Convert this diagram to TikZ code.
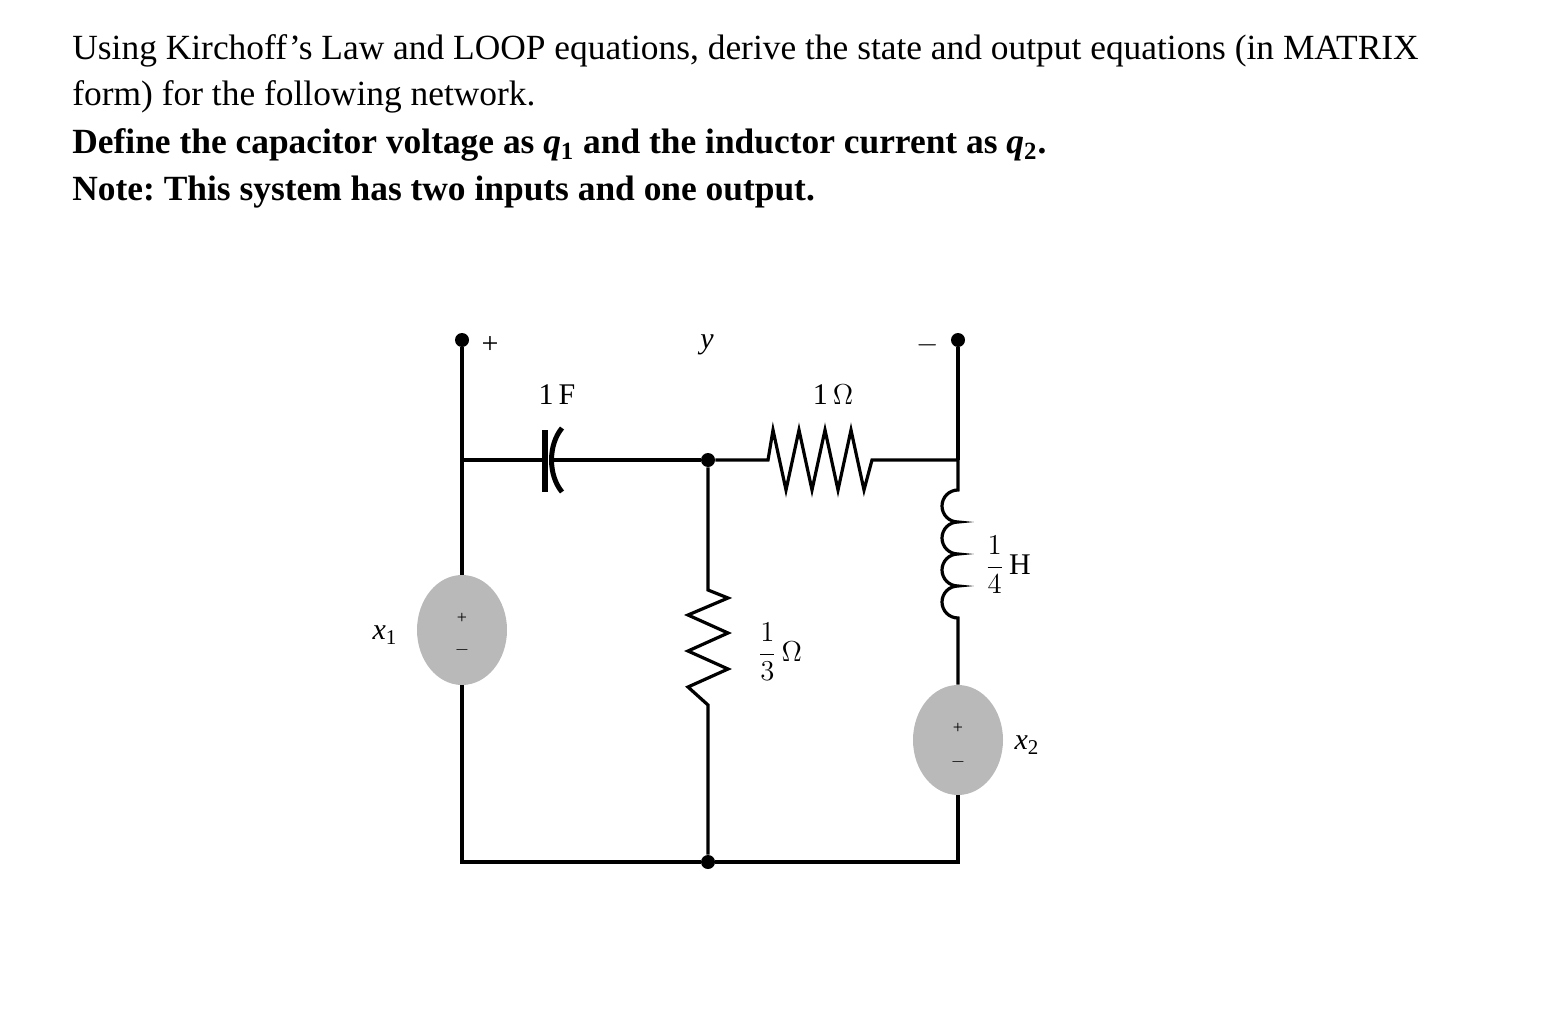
\documentclass[tikz,border=0pt]{standalone}
\usepackage{fontspec}
\usetikzlibrary{shapes.geometric}
\setmainfont{Liberation Serif}
\frenchspacing
\begin{document}
\begin{tikzpicture}[x=0.5pt,y=-0.5pt,
  wire/.style={line width=1.6pt},
  dotn/.style={circle,fill=black,inner sep=0pt,minimum size=7pt},
  src/.style={ellipse,draw=none,fill=gray!55,minimum width=45pt,minimum height=55pt},
  lbl/.style={font=\fontsize{15}{17}\selectfont},
  txt/.style={anchor=base west,inner sep=0pt,font=\fontsize{17.7}{20}\selectfont}]
\useasboundingbox (0,0) rectangle (1558,1011);
\node[txt] (t1) at (72,60) {Using Kirchoff’s Law and LOOP equations, derive the state and output equations (in MATRIX};
\node[txt] (t2) at (72,106) {form) for the following network.};
\node[txt] (t3) at (72,154) {\bfseries Define the capacitor voltage as \textit{q}\textsubscript{1} and the inductor current as \textit{q}\textsubscript{2}.};
\node[txt] (t4) at (72,200) {\bfseries Note: This system has two inputs and one output.};
% nodes
\node[dotn] (tl) at (462,340) {};
\node[dotn] (tr) at (958,340) {};
\node[dotn] (mid) at (708,460) {};
\node[dotn] (bot) at (708,862) {};
\coordinate (lt) at (462,460);
\coordinate (rt) at (958,460);
\coordinate (lb) at (462,862);
\coordinate (rb) at (958,862);
\node[src] (x1s) at (462,630) {};
\node[src] (x2s) at (958,740) {};
\node at (462,618) {\small +}; \node at (462,650) {\small $-$};
\node at (958,728) {\small +}; \node at (958,762) {\small $-$};
% wires
\draw[wire] (tl) -- (lt) -- (x1s.north);
\draw[wire] (x1s.south) -- (lb) -- (bot) -- (rb) -- (x2s.south);
\draw[wire] (tr) -- (rt);
% capacitor
\draw[wire] (lt) -- (545,460);
\draw[line width=3pt] (545,430) -- (545,492);
\draw[line width=2.5pt] (562,428) .. controls (548,445) and (548,475) .. (562,492);
\draw[wire] (553,460) -- (mid);
% resistor 1 ohm
\draw[wire] (mid) -- (768,460) -- (773,430) -- (786,490) -- (799,430) -- (812,490) -- (825,430) -- (838,490) -- (851,430) -- (864,490) -- (872,460) -- (rt);
% inductor
\draw[wire] (rt) -- (958,490)
  arc[start angle=270,end angle=90,radius=16]
  arc[start angle=270,end angle=90,radius=16]
  arc[start angle=270,end angle=90,radius=16]
  arc[start angle=270,end angle=90,radius=16]
  -- (x2s.north);
% middle resistor
\draw[wire] (mid) -- (708,590) -- (728,598) -- (688,615) -- (728,633) -- (688,651) -- (728,669) -- (688,687) -- (708,705) -- (bot);
% labels
\node[lbl] (lp) at (490,345) {+};
\node[lbl] (lm) at (928,345) {$-$};
\node[lbl] (ly) at (707,345) {\textit{y}};
\node[lbl] (lc) at (557,395) {1\,F};
\node[lbl] (lr) at (833,395) {1\,$\Omega$};
\node[lbl] (li) at (1008,565) {$\displaystyle\frac{1}{4}$\,H};
\node[lbl] (lr3) at (780,652) {$\displaystyle\frac{1}{3}\,\Omega$};
\node[lbl] (lx1) at (385,635) {\textit{x}\textsubscript{1}};
\node[lbl] (lx2) at (1027,745) {\textit{x}\textsubscript{2}};
\end{tikzpicture}
\end{document}
